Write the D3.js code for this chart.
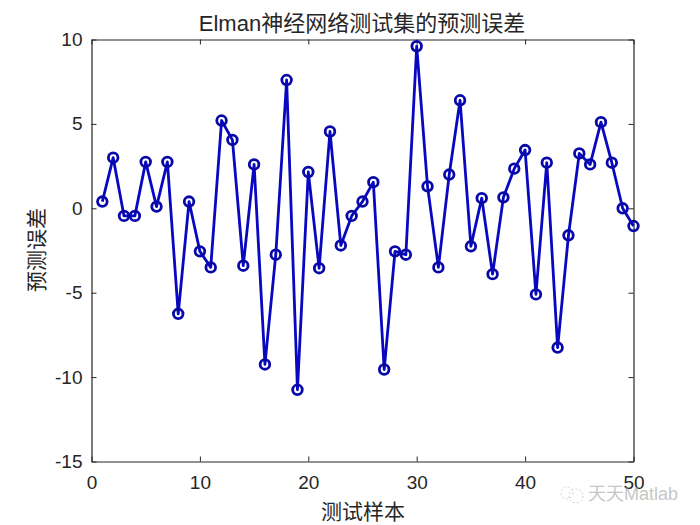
<!DOCTYPE html>
<html>
<head>
    <meta charset="utf-8">
    <title>Elman</title>
    <script src="https://d3js.org/d3.v7.min.js"></script>
    <style>
        html, body { margin: 0; padding: 0; background: #fff; }
        svg { display: block; }
        text { font-family: "Liberation Sans", "Noto Sans CJK SC", sans-serif; fill: #262626; }
    </style>
</head>
<body>
<div id="my_dataviz"></div>
<script>
    // values
    var samples = [1,2,3,4,5,6,7,8,9,10,11,12,13,14,15,16,17,18,19,20,21,22,23,24,25,
                   26,27,28,29,30,31,32,33,34,35,36,37,38,39,40,41,42,43,44,45,46,47,48,49,50];
    var errors = [0.4,3.0,-0.45,-0.45,2.75,0.1,2.75,-6.25,0.4,-2.55,-3.5,5.2,4.05,-3.4,2.6,
                  -9.25,-2.75,7.6,-10.75,2.15,-3.55,4.55,-2.2,-0.45,0.4,1.55,-9.55,-2.55,-2.75,9.6,
                  1.3,-3.5,2.0,6.4,-2.25,0.6,-3.9,0.65,2.35,3.45,-5.1,2.7,-8.25,-1.6,3.25,
                  2.6,5.1,2.7,0,-1.05];
    var xTicks = [0,10,20,30,40,50];
    var yTicks = [-15,-10,-5,0,5,10];
    var titleText = "Elman神经网络测试集的预测误差";
    var xLabel = "测试样本";
    var yLabel = "预测误差";
    var watermark = "天天Matlab";

    var margin = {top: 39.5, right: 66.5, bottom: 63.5, left: 91.5},
        width = 700 - margin.left - margin.right,
        height = 525 - margin.top - margin.bottom;

    var svg = d3.select("#my_dataviz")
        .append("svg")
        .attr("width", 700)
        .attr("height", 525);

    var g = svg.append("g")
        .attr("transform", "translate(" + margin.left + "," + margin.top + ")");

    var x = d3.scaleLinear().domain([0, 50]).range([0, width]);
    var y = d3.scaleLinear().domain([-15, 10]).range([height, 0]);

    // plain hyphen on negative labels, same as the reference
    var plain = function(d) { return String(d); };

    // all four sides get inward ticks, only bottom and left get labels
    function style_axis(sel) {
        sel.selectAll("path").attr("stroke", "#262626").attr("stroke-width", 1.2);
        sel.selectAll("line").attr("stroke", "#262626").attr("stroke-width", 1);
        sel.selectAll("text").style("font-size", "19px").attr("fill", "#262626");
    }

    g.append("g")
        .attr("transform", "translate(0," + height + ")")
        .call(d3.axisBottom(x).tickValues(xTicks).tickFormat(plain).tickSizeInner(-5).tickSizeOuter(0).tickPadding(14))
        .call(style_axis);
    g.append("g")
        .call(d3.axisTop(x).tickValues(xTicks).tickSizeInner(-5).tickSizeOuter(0).tickFormat(""))
        .call(style_axis);
    g.append("g")
        .call(d3.axisLeft(y).tickValues(yTicks).tickFormat(plain).tickSizeInner(-5).tickSizeOuter(0).tickPadding(9))
        .call(style_axis);
    g.append("g")
        .attr("transform", "translate(" + width + ",0)")
        .call(d3.axisRight(y).tickValues(yTicks).tickSizeInner(-5).tickSizeOuter(0).tickFormat(""))
        .call(style_axis);

    // line and open circle markers
    var line = d3.line()
        .x(function(d, i) { return x(samples[i]); })
        .y(function(d) { return y(d); });

    g.append("path")
        .datum(errors)
        .attr("d", line)
        .attr("fill", "none")
        .attr("stroke", "#0808c0")
        .attr("stroke-width", 2.8)
        .attr("stroke-linejoin", "round");

    g.selectAll("circle")
        .data(errors)
        .enter()
        .append("circle")
        .attr("cx", function(d, i) { return x(samples[i]); })
        .attr("cy", function(d) { return y(d); })
        .attr("r", 4.8)
        .attr("fill", "none")
        .attr("stroke", "#0808a8")
        .attr("stroke-width", 2.8);

    // titles
    svg.append("text")
        .attr("x", 362)
        .attr("y", 31)
        .attr("text-anchor", "middle")
        .style("font-size", "22px")
        .text(titleText);

    svg.append("text")
        .attr("x", 363)
        .attr("y", 519)
        .attr("text-anchor", "middle")
        .style("font-size", "21px")
        .text(xLabel);

    svg.append("text")
        .attr("transform", "translate(44,250) rotate(-90)")
        .attr("text-anchor", "middle")
        .style("font-size", "21px")
        .text(yLabel);

    // watermark, bottom right, sits over the 50 label in the reference too
    var wm = svg.append("g").attr("opacity", 0.55);
    wm.append("circle").attr("cx", 567).attr("cy", 493).attr("r", 6)
        .attr("fill", "none").attr("stroke", "#aaa").attr("stroke-dasharray", "2,2");
    wm.append("circle").attr("cx", 576).attr("cy", 496).attr("r", 7)
        .attr("fill", "none").attr("stroke", "#aaa").attr("stroke-dasharray", "2,2");
    wm.append("text")
        .attr("x", 588)
        .attr("y", 500)
        .style("font-size", "18px")
        .style("fill", "#999")
        .text(watermark);
</script>
</body>
</html>
